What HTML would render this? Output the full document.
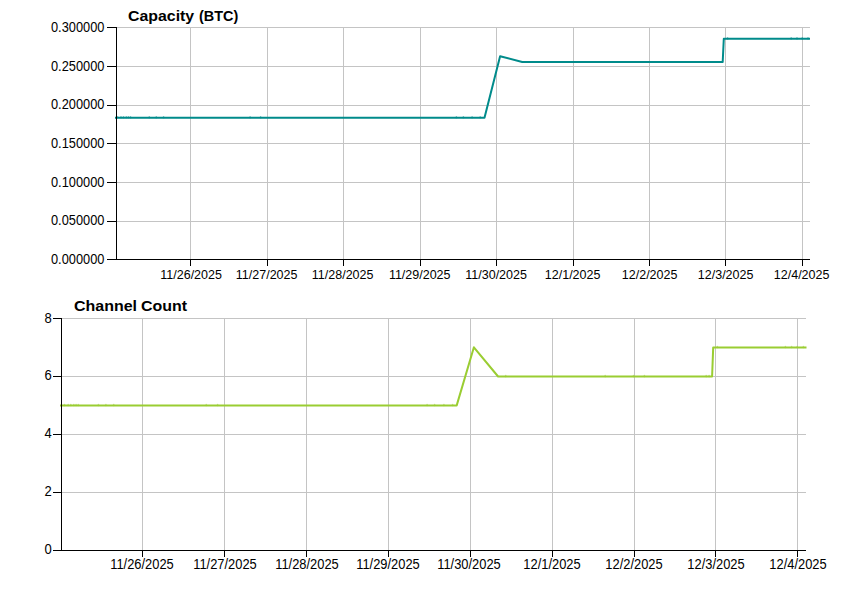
<!DOCTYPE html>
<html><head><meta charset="utf-8"><style>
html,body{margin:0;padding:0;background:#fff;width:860px;height:600px;overflow:hidden;position:relative}
body{font-family:"Liberation Sans",sans-serif;color:#000}
svg{position:absolute;left:0;top:0}
.t{position:absolute;white-space:nowrap;line-height:1}
</style></head><body>
<svg width="860" height="600" viewBox="0 0 860 600"><path shape-rendering="crispEdges" fill="none" stroke="#c4c4c4" d="M117 27.5H810M117 66.5H810M117 105.5H810M117 143.5H810M117 182.5H810M117 221.5H810M190.5 27V259M267.5 27V259M343.5 27V259M420.5 27V259M496.5 27V259M573.5 27V259M649.5 27V259M725.5 27V259M802.5 27V259"/><polyline points="115,117.7 484.5,117.7 500.1,56.2 522.2,62 722.7,62 723.8,38.8 810,38.8" fill="none" stroke="#008b8b" stroke-width="2" stroke-linejoin="round"/><g fill="#008b8b" opacity="0.5"><ellipse cx="117.6" cy="117.30" rx="0.8" ry="1.3"/><ellipse cx="121.0" cy="117.30" rx="0.8" ry="1.3"/><ellipse cx="123.5" cy="117.30" rx="0.8" ry="1.3"/><ellipse cx="126.3" cy="117.30" rx="0.8" ry="1.3"/><ellipse cx="128.4" cy="117.30" rx="0.8" ry="1.3"/><ellipse cx="130.5" cy="117.30" rx="0.8" ry="1.3"/><ellipse cx="149.3" cy="117.30" rx="0.8" ry="1.3"/><ellipse cx="156.3" cy="117.30" rx="0.8" ry="1.3"/><ellipse cx="163.6" cy="117.30" rx="0.8" ry="1.3"/><ellipse cx="250.1" cy="117.30" rx="0.8" ry="1.3"/><ellipse cx="260.6" cy="117.30" rx="0.8" ry="1.3"/><ellipse cx="456.4" cy="117.30" rx="0.8" ry="1.3"/><ellipse cx="463.4" cy="117.30" rx="0.8" ry="1.3"/><ellipse cx="472.1" cy="117.30" rx="0.8" ry="1.3"/><ellipse cx="480.2" cy="117.30" rx="0.8" ry="1.3"/><ellipse cx="727.6" cy="38.40" rx="0.8" ry="1.3"/><ellipse cx="791.2" cy="38.40" rx="0.8" ry="1.3"/><ellipse cx="797.0" cy="38.40" rx="0.8" ry="1.3"/><ellipse cx="802.2" cy="38.40" rx="0.8" ry="1.3"/><ellipse cx="808.0" cy="38.40" rx="0.8" ry="1.3"/></g><path shape-rendering="crispEdges" fill="none" stroke="#000" d="M116.5 27V260M116 259.5H810M107 27.5H116M107 66.5H116M107 105.5H116M107 143.5H116M107 182.5H116M107 221.5H116M107 259.5H116M190.5 260V266M267.5 260V266M343.5 260V266M420.5 260V266M496.5 260V266M573.5 260V266M649.5 260V266M725.5 260V266M802.5 260V266"/><path shape-rendering="crispEdges" fill="none" stroke="#c4c4c4" d="M62 318.5H806M62 376.5H806M62 434.5H806M62 492.5H806M142.5 318V550M224.5 318V550M306.5 318V550M388.5 318V550M470.5 318V550M552.5 318V550M634.5 318V550M715.5 318V550M797.5 318V550"/><polyline points="60,405.4 456.7,405.4 473.9,347.3 498.1,376.5 712.1,376.5 713.2,347.4 806.5,347.4" fill="none" stroke="#9acd32" stroke-width="2" stroke-linejoin="round"/><g fill="#9acd32" opacity="0.5"><ellipse cx="64.5" cy="405.00" rx="0.8" ry="1.3"/><ellipse cx="68.2" cy="405.00" rx="0.8" ry="1.3"/><ellipse cx="70.8" cy="405.00" rx="0.8" ry="1.3"/><ellipse cx="73.8" cy="405.00" rx="0.8" ry="1.3"/><ellipse cx="76.1" cy="405.00" rx="0.8" ry="1.3"/><ellipse cx="78.3" cy="405.00" rx="0.8" ry="1.3"/><ellipse cx="98.4" cy="405.00" rx="0.8" ry="1.3"/><ellipse cx="105.9" cy="405.00" rx="0.8" ry="1.3"/><ellipse cx="113.7" cy="405.00" rx="0.8" ry="1.3"/><ellipse cx="206.3" cy="405.00" rx="0.8" ry="1.3"/><ellipse cx="217.6" cy="405.00" rx="0.8" ry="1.3"/><ellipse cx="427.1" cy="405.00" rx="0.8" ry="1.3"/><ellipse cx="434.6" cy="405.00" rx="0.8" ry="1.3"/><ellipse cx="443.9" cy="405.00" rx="0.8" ry="1.3"/><ellipse cx="452.6" cy="405.00" rx="0.8" ry="1.3"/><ellipse cx="717.4" cy="347.00" rx="0.8" ry="1.3"/><ellipse cx="785.4" cy="347.00" rx="0.8" ry="1.3"/><ellipse cx="791.6" cy="347.00" rx="0.8" ry="1.3"/><ellipse cx="797.2" cy="347.00" rx="0.8" ry="1.3"/><ellipse cx="803.4" cy="347.00" rx="0.8" ry="1.3"/><ellipse cx="505.7" cy="376.10" rx="0.8" ry="1.3"/><ellipse cx="605.2" cy="376.10" rx="0.8" ry="1.3"/><ellipse cx="633.5" cy="376.10" rx="0.8" ry="1.3"/><ellipse cx="644.4" cy="376.10" rx="0.8" ry="1.3"/><ellipse cx="706.2" cy="376.10" rx="0.8" ry="1.3"/><ellipse cx="709.1" cy="376.10" rx="0.8" ry="1.3"/></g><path shape-rendering="crispEdges" fill="none" stroke="#000" d="M61.5 318V551M61 550.5H806M53 318.5H61M53 376.5H61M53 434.5H61M53 492.5H61M53 550.5H61M142.5 551V557M224.5 551V557M306.5 551V557M388.5 551V557M470.5 551V557M552.5 551V557M634.5 551V557M715.5 551V557M797.5 551V557"/></svg>
<div class="t" style="top:19.5px;font-size:14px;transform:scale(0.915,1.0);right:755.50px;transform-origin:100% 0">0.300000</div><div class="t" style="top:58.5px;font-size:14px;transform:scale(0.915,1.0);right:755.50px;transform-origin:100% 0">0.250000</div><div class="t" style="top:96.5px;font-size:14px;transform:scale(0.915,1.0);right:755.50px;transform-origin:100% 0">0.200000</div><div class="t" style="top:135.5px;font-size:14px;transform:scale(0.915,1.0);right:755.50px;transform-origin:100% 0">0.150000</div><div class="t" style="top:174.5px;font-size:14px;transform:scale(0.915,1.0);right:755.50px;transform-origin:100% 0">0.100000</div><div class="t" style="top:212.5px;font-size:14px;transform:scale(0.915,1.0);right:755.50px;transform-origin:100% 0">0.050000</div><div class="t" style="top:251.5px;font-size:14px;transform:scale(0.915,1.0);right:755.50px;transform-origin:100% 0">0.000000</div><div class="t" style="top:310.5px;font-size:14px;transform:scale(0.93,1.0);right:808.30px;transform-origin:100% 0">8</div><div class="t" style="top:367.5px;font-size:14px;transform:scale(0.93,1.0);right:808.30px;transform-origin:100% 0">6</div><div class="t" style="top:425.5px;font-size:14px;transform:scale(0.93,1.0);right:808.30px;transform-origin:100% 0">4</div><div class="t" style="top:483.5px;font-size:14px;transform:scale(0.93,1.0);right:808.30px;transform-origin:100% 0">2</div><div class="t" style="top:541.5px;font-size:14px;transform:scale(0.93,1.0);right:808.30px;transform-origin:100% 0">0</div><div class="t" style="top:269px;font-size:12.5px;left:131.14px;width:120px;text-align:center;transform-origin:50% 0">11/26/2025</div><div class="t" style="top:269px;font-size:12.5px;left:206.67px;width:120px;text-align:center;transform-origin:50% 0">11/27/2025</div><div class="t" style="top:269px;font-size:12.5px;left:282.66px;width:120px;text-align:center;transform-origin:50% 0">11/28/2025</div><div class="t" style="top:269px;font-size:12.5px;left:359.72px;width:120px;text-align:center;transform-origin:50% 0">11/29/2025</div><div class="t" style="top:269px;font-size:12.5px;left:436.14px;width:120px;text-align:center;transform-origin:50% 0">11/30/2025</div><div class="t" style="top:269px;font-size:12.5px;left:512.62px;width:120px;text-align:center;transform-origin:50% 0">12/1/2025</div><div class="t" style="top:269px;font-size:12.5px;left:589.62px;width:120px;text-align:center;transform-origin:50% 0">12/2/2025</div><div class="t" style="top:269px;font-size:12.5px;left:665.62px;width:120px;text-align:center;transform-origin:50% 0">12/3/2025</div><div class="t" style="top:269px;font-size:12.5px;left:741.63px;width:120px;text-align:center;transform-origin:50% 0">12/4/2025</div><div class="t" style="top:557px;font-size:14px;transform:scale(0.92,1.0);left:82.17px;width:120px;text-align:center;transform-origin:50% 0">11/26/2025</div><div class="t" style="top:557px;font-size:14px;transform:scale(0.92,1.0);left:164.61px;width:120px;text-align:center;transform-origin:50% 0">11/27/2025</div><div class="t" style="top:557px;font-size:14px;transform:scale(0.92,1.0);left:246.58px;width:120px;text-align:center;transform-origin:50% 0">11/28/2025</div><div class="t" style="top:557px;font-size:14px;transform:scale(0.92,1.0);left:328.20px;width:120px;text-align:center;transform-origin:50% 0">11/29/2025</div><div class="t" style="top:557px;font-size:14px;transform:scale(0.92,1.0);left:409.17px;width:120px;text-align:center;transform-origin:50% 0">11/30/2025</div><div class="t" style="top:557px;font-size:14px;transform:scale(0.92,1.0);left:492.05px;width:120px;text-align:center;transform-origin:50% 0">12/1/2025</div><div class="t" style="top:557px;font-size:14px;transform:scale(0.92,1.0);left:574.07px;width:120px;text-align:center;transform-origin:50% 0">12/2/2025</div><div class="t" style="top:557px;font-size:14px;transform:scale(0.92,1.0);left:656.14px;width:120px;text-align:center;transform-origin:50% 0">12/3/2025</div><div class="t" style="top:557px;font-size:14px;transform:scale(0.92,1.0);left:738.08px;width:120px;text-align:center;transform-origin:50% 0">12/4/2025</div><div class="t" style="top:7.8px;font-size:15px;font-weight:bold;transform:scale(1.0579169004307214,1.0);left:127.70px;transform-origin:0 0">Capacity</div><div class="t" style="top:7.8px;font-size:15px;font-weight:bold;transform:scale(0.9607317611896528,1.0);left:198.61px;transform-origin:0 0">(BTC)</div><div class="t" style="top:298.3px;font-size:15px;font-weight:bold;transform:scale(1.0656612830329668,1.0);left:74.05px;transform-origin:0 0">Channel</div><div class="t" style="top:298.3px;font-size:15px;font-weight:bold;transform:scale(1.0622376080754021,1.0);left:140.51px;transform-origin:0 0">Count</div>
</body></html>
